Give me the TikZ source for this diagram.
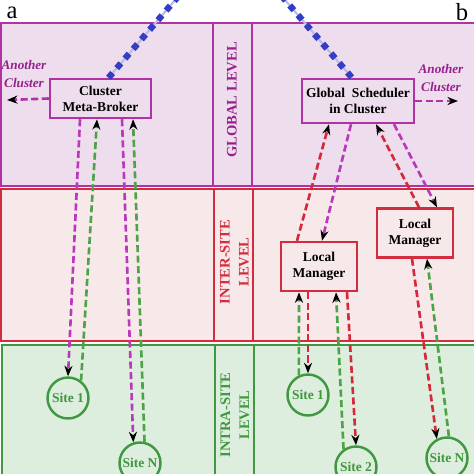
\documentclass[tikz,border=0pt]{standalone}
\usepackage{fontspec}
\setmainfont{Liberation Serif}
\usepackage{tikz}
\usetikzlibrary{positioning, arrows.meta, calc}
\usepackage{xcolor}
\definecolor{globfill}{RGB}{238,222,237}
\definecolor{globline}{RGB}{178,50,165}
\definecolor{globtext}{RGB}{150,32,140}
\definecolor{interfill}{RGB}{247,232,234}
\definecolor{interline}{RGB}{210,44,62}
\definecolor{intrafill}{RGB}{222,238,222}
\definecolor{intraline}{RGB}{64,152,64}
\definecolor{msgpurple}{RGB}{186,56,188}
\definecolor{msgred}{RGB}{214,40,58}
\definecolor{msggreen}{RGB}{76,164,70}
\definecolor{linkblue}{RGB}{52,62,196}

\begin{document}
\begin{tikzpicture}[x=0.02cm, y=-0.02cm,
    every node/.style={font=\fontsize{7.7}{9}\selectfont\bfseries},
    cbox/.style={draw=globline, fill=globfill, line width=1.4pt, align=center, inner sep=1pt},
    lbox/.style={draw=interline, fill=interfill, line width=1.4pt, align=center, inner sep=1pt,
        minimum width=1.52cm, minimum height=0.98cm},
    site/.style={circle, draw=intraline, fill=intrafill, line width=1.4pt, text=intraline,
        minimum size=0.82cm, inner sep=0pt},
    lvl/.style={rotate=90, align=center, font=\fontsize{8.3}{10.8}\selectfont\bfseries},
    msg/.style={line width=1.5pt, dash pattern=on 4pt off 2pt,
        -{Stealth[length=6pt, width=4.6pt, black]}},
    band/.style={line width=1.2pt},
]
    \useasboundingbox (0,0) rectangle (474,474);
    \clip (0,0) rectangle (474,474);

    % Level bands
    \draw[band, draw=globline, fill=globfill] (1,23) rectangle (478,186);
    \draw[band, draw=globline] (213,23) -- (213,186) (252,23) -- (252,186);
    \draw[band, draw=interline, fill=interfill] (1,189) rectangle (478,341);
    \draw[band, draw=interline] (214,189) -- (214,341) (253,189) -- (253,341);
    \draw[band, draw=intraline, fill=intrafill] (2,345) rectangle (478,480);
    \draw[band, draw=intraline] (215,345) -- (215,480) (254,345) -- (254,480);

    % Level names
    \node[lvl, text=globtext] (glob) at (232,100) {GLOBAL LEVEL};
    \node[lvl, text=interline] (inter) at (234.5,262) {INTER-SITE\\LEVEL};
    \node[lvl, text=intraline] (intra) at (235,415) {INTRA-SITE\\LEVEL};

    % Panel letters
    \node[font=\fontsize{14}{16}\selectfont, anchor=base, inner sep=0pt] (pa) at (12,18) {a};
    \node[font=\fontsize{14}{16}\selectfont, anchor=base, inner sep=0pt] (pb) at (462,20) {b};

    % (a) cluster meta-broker
    \node[cbox, minimum width=2.02cm, minimum height=0.78cm] (cmb) at (100.5,98.5) {Cluster\\Meta-Broker};
    \node[text=globtext, font=\fontsize{7.5}{10}\selectfont\bfseries\itshape, align=center] (anL) at (24,74) {Another\\Cluster};
    \coordinate (outL) at (7,100);
    \node[site] (s1L) at (68,398) {Site 1};
    \node[site] (snL) at (140,463) {Site N};

    % (b) global scheduler and local managers
    \node[cbox, minimum width=2.24cm, minimum height=0.88cm] (gs) at (358,101) {Global~ Scheduler\\in Cluster};
    \node[text=globtext, font=\fontsize{7.5}{10}\selectfont\bfseries\itshape, align=center] (anR) at (441,78) {Another\\Cluster};
    \coordinate (outR) at (458,101);
    \node[lbox] (lm1) at (319,266.5) {Local\\Manager};
    \node[lbox] (lm2) at (415,233) {Local\\Manager};
    \node[site] (s1R) at (308,395) {Site 1};
    \node[site] (s2R) at (356,467) {Site 2};
    \node[site] (snR) at (447,458) {Site N};

    % Links between clusters
    \coordinate (apex) at (230,-64);
    \draw[linkblue!35, line width=1.2pt] ($(cmb.north)+(8,0)$) -- (apex) -- ($(gs.north)+(-6,0)$);
    \draw[linkblue, line width=3.6pt, dash pattern=on 3.6pt off 3.6pt] ($(cmb.north)+(8,0)$) -- (apex) -- ($(gs.north)+(-6,0)$);

    % Messages to other clusters
    \draw[msg, color=globline] (cmb.west) -- (outL);
    \draw[msg, color=globline] (gs.east) -- (outR);

    % (a) broker <-> sites
    \draw[msg, msgpurple] ($(cmb.south)+(-20.5,0)$) -- (s1L.north);
    \draw[msg, msggreen] (s1L.53) -- ($(cmb.south)+(-3.5,0)$);
    \draw[msg, msgpurple] ($(cmb.south)+(21.5,0)$) -- (snL.108);
    \draw[msg, msggreen] (snL.78) -- ($(cmb.south)+(32.5,0)$);

    % (b) scheduler <-> local managers
    \draw[msg, msgred] ($(lm1.north)+(-22,0)$) -- ($(gs.south)+(-29,0)$);
    \draw[msg, msgpurple] ($(gs.south)+(-7,0)$) -- ($(lm1.north)+(3,0)$);
    \draw[msg, msgred] ($(lm2.north)+(4,0)$) -- ($(gs.south)+(18,0)$);
    \draw[msg, msgpurple] ($(gs.south)+(36,0)$) -- ($(lm2.north)+(22,0)$);

    % (b) local managers <-> sites
    \draw[msg, msggreen] (s1R.115) -- ($(lm1.south)+(-20,0)$);
    \draw[msg, msgred] ($(lm1.south)+(-11,0)$) -- (s1R.north);
    \draw[msg, msggreen] (s2R.125) -- ($(lm1.south)+(17,0)$);
    \draw[msg, msgred] ($(lm1.south)+(28,0)$) -- (s2R.north);
    \draw[msg, msgred] ($(lm2.south)+(-3,0)$) -- (snR.118);
    \draw[msg, msggreen] (snR.85) -- ($(lm2.south)+(12,0)$);
\end{tikzpicture}
\end{document}
